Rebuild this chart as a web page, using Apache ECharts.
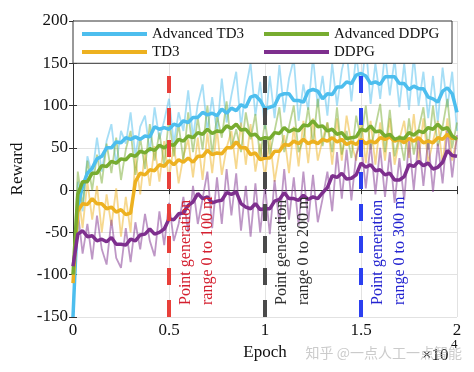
<!DOCTYPE html>
<html><head><meta charset="utf-8">
<script src="https://cdn.jsdelivr.net/npm/echarts@6/dist/echarts.min.js"></script>
<style>html,body{margin:0;padding:0;background:#fff}#c{width:474px;height:372px}</style>
</head><body><div id="c"></div>
<script>
const epochs = [0,0.025,0.05,0.075,0.1,0.125,0.15,0.175,0.2,0.225,
0.25,0.275,0.3,0.325,0.35,0.375,0.4,0.425,0.45,0.475,
0.5,0.525,0.55,0.575,0.6,0.625,0.65,0.675,0.7,0.725,
0.75,0.775,0.8,0.825,0.85,0.875,0.9,0.925,0.95,0.975,
1,1.025,1.05,1.075,1.1,1.125,1.15,1.175,1.2,1.225,
1.25,1.275,1.3,1.325,1.35,1.375,1.4,1.425,1.45,1.475,
1.5,1.525,1.55,1.575,1.6,1.625,1.65,1.675,1.7,1.725,
1.75,1.775,1.8,1.825,1.85,1.875,1.9,1.925,1.95,1.975,2];

const advTD3Smooth = [-150,-20,5,20,26,37,40,50,50,57,
56,62,60,63,60,64,63,75,72,74,
72,78,76,82,80,86,86,92,89,91,
88,96,91,97,94,101,98,110,112,106,
96,98,100,112,114,114,106,106,104,117,
119,117,108,114,113,122,122,128,126,136,
138,135,126,128,125,134,134,134,126,126,
119,123,120,120,110,108,104,117,121,114,92];
const advTD3Raw = [-150,10,-25,40,18,62,22,58,78,30,
70,55,92,40,75,88,45,98,60,82,
108,55,92,70,118,62,102,125,70,110,
68,132,80,112,140,75,120,150,88,128,
72,135,85,148,92,132,155,82,125,95,
158,98,135,88,150,100,142,165,105,160,
115,172,102,150,108,162,112,155,98,150,
95,158,100,140,85,135,80,145,98,140,70];

const advDDPGSmooth = [-100,-5,10,10,20,20,29,28,34,32,
37,36,42,40,46,44,49,47,53,50,
54,53,60,58,64,62,68,66,72,67,
70,69,76,73,78,71,72,65,66,60,
62,61,68,67,74,69,72,70,77,76,
82,75,76,70,72,66,68,61,62,63,
72,70,76,69,70,64,66,60,62,61,
68,65,70,68,74,72,78,72,74,64,60];
const advDDPGRaw = [-100,22,-18,35,0,42,8,55,20,62,
12,48,70,18,62,25,78,35,68,30,
85,40,78,35,92,45,85,48,100,42,
88,62,105,50,72,45,92,60,90,38,
82,42,70,98,45,75,100,45,60,98,
55,108,52,80,45,98,42,70,38,88,
60,100,48,75,102,45,95,40,65,35,
85,42,72,98,48,100,52,75,108,50,80];

const td3Smooth = [-110,-25,-16,-17,-10,-16,-16,-22,-20,-26,
-23,-29,-27,10,20,18,24,23,30,28,
35,30,36,33,38,33,40,40,47,42,
44,43,50,50,57,50,50,42,44,36,
38,38,46,46,54,53,58,55,60,55,
58,55,60,58,62,57,60,54,57,54,
60,55,58,56,62,60,63,58,60,56,
61,58,62,56,58,56,62,60,66,61,62];
const td3Raw = [-110,0,-45,10,-35,5,-50,-5,-42,2,
-55,-8,-50,38,-5,45,5,52,10,58,
12,55,8,40,60,15,62,12,68,20,
72,18,50,70,25,80,30,78,22,55,
15,62,10,45,65,20,75,28,82,32,
85,35,60,80,30,85,35,88,55,35,
85,32,82,30,80,35,85,30,60,82,
38,90,35,85,32,58,82,30,85,35,62];

const ddpgSmooth = [-90,-52,-48,-55,-54,-60,-58,-61,-56,-64,
-64,-65,-58,-60,-53,-52,-46,-52,-50,-46,
-34,-35,-28,-27,-18,-14,-4,-10,-8,-15,
-13,-12,-3,-5,-2,-16,-20,-22,-16,-23,
-22,-22,-13,-11,-3,-10,-10,-12,-6,-11,
-8,-10,-3,3,17,15,20,13,14,18,
32,27,30,23,24,18,20,12,12,16,
30,28,34,29,32,25,27,33,47,41,40];
const ddpgRaw = [-90,-25,-75,-40,-82,-30,-70,-88,-35,-80,
-92,-45,-85,-38,-70,-28,-60,-78,-25,-65,
-15,-60,-40,-8,-50,5,-40,-10,22,-45,
15,-40,25,-30,20,-48,5,-55,8,-50,
5,-52,12,-40,25,-35,15,-42,22,-38,
18,-38,-10,22,-25,45,-10,48,-12,42,
58,2,55,-5,50,-8,45,-15,38,-12,
58,0,62,5,60,-2,55,8,72,15,65];

const seriesNames = ['Advanced TD3','TD3','Advanced DDPG','DDPG'];
const seriesColors = ['#4DBEEE','#EDB120','#77AC30','#7E2F8E'];
const xTickLabels = ['0','0.5','1','1.5','2'];
const yTickLabels = ['-150','-100','-50','0','50','100','150','200'];
const rangeLines = [0.5, 1, 1.5];
const rangeColors = ['#e8403a','#4a4a4a','#2b3ff0'];
const rangeTextColors = ['#d42030','#2e2e2e','#2424d0'];
const rangeTexts = ['Point generation\nrange 0 to 100 m','Point generation\nrange 0 to 200 m','Point generation\nrange 0 to 300 m'];

const FONT = '"Liberation Serif","Times New Roman",serif';
const smooths = [advTD3Smooth, td3Smooth, advDDPGSmooth, ddpgSmooth];
const raws = [advTD3Raw, td3Raw, advDDPGRaw, ddpgRaw];
const pairs = arr => epochs.map((e,i)=>[e, arr[i]]);

const series = [];
raws.forEach((r,k)=>{
  series.push({type:'line', name:seriesNames[k]+' raw', data:pairs(r), showSymbol:false, silent:true,
    lineStyle:{color:seriesColors[k], width:1.8, opacity:0.5}, itemStyle:{color:seriesColors[k]}, z:2});
});
smooths.forEach((s,k)=>{
  series.push({type:'line', name:seriesNames[k], data:pairs(s), showSymbol:false,
    lineStyle:{color:seriesColors[k], width:3.5}, itemStyle:{color:seriesColors[k]}, z:3});
});
series.push({type:'line', name:'marks', data:[], silent:true, z:5,
  markLine:{silent:true, symbol:['none','none'], animation:false, label:{show:false},
    lineStyle:{type:[17,15], width:4, opacity:1},
    data: rangeLines.map((v,i)=>[{coord:[v,-150], lineStyle:{color:rangeColors[i], type:[17,15], width:4}},{coord:[v,150]}])}
});

const axisCommon = {min:0, max:2, interval:0.5};
const option = {
  animation:false,
  grid:{left:73, right:17, top:21, bottom:55},
  legend:[
    {orient:'vertical', left:82, top:26, padding:0, itemGap:2, itemWidth:65, itemHeight:4, icon:'rect', z:110,
      data:['Advanced TD3','TD3'], selectedMode:false, textStyle:{fontFamily:FONT, fontSize:15, color:'#111', lineHeight:16}},
    {orient:'vertical', left:264, top:26, padding:0, itemGap:2, itemWidth:65, itemHeight:4, icon:'rect', z:110,
      data:['Advanced DDPG','DDPG'], selectedMode:false, textStyle:{fontFamily:FONT, fontSize:15, color:'#111', lineHeight:16}}
  ],
  xAxis:[
    Object.assign({type:'value', position:'bottom', name:'Epoch', nameLocation:'middle', nameGap:25,
      nameTextStyle:{fontFamily:FONT, fontSize:17, color:'#111'},
      axisLine:{show:true, lineStyle:{color:'#333', width:1}},
      axisTick:{show:true, inside:true, length:4, lineStyle:{color:'#333'}},
      axisLabel:{margin:5, fontFamily:FONT, fontSize:17, color:'#111', formatter:(v)=>xTickLabels[Math.round(v/0.5)]},
      splitLine:{show:true, lineStyle:{color:'#e2e2e2', width:1}}}, axisCommon),
    Object.assign({type:'value', position:'top',
      axisLine:{show:true, lineStyle:{color:'#333', width:1}},
      axisTick:{show:true, inside:true, length:4, lineStyle:{color:'#333'}},
      axisLabel:{show:false}, splitLine:{show:false}}, axisCommon)
  ],
  yAxis:[
    {type:'value', min:-150, max:200, interval:50, name:'Reward', nameLocation:'middle', nameGap:38,
      nameTextStyle:{fontFamily:FONT, fontSize:17, color:'#111'},
      axisLine:{show:true, lineStyle:{color:'#333', width:1}},
      axisTick:{show:true, inside:true, length:4, lineStyle:{color:'#333'}},
      axisLabel:{margin:5, fontFamily:FONT, fontSize:17, color:'#111', formatter:(v)=>yTickLabels[Math.round((v+150)/50)]},
      splitLine:{show:true, lineStyle:{color:'#e2e2e2', width:1}}},
    {type:'value', min:-150, max:200, interval:50, position:'right',
      axisLine:{show:true, lineStyle:{color:'#333', width:1}},
      axisTick:{show:true, inside:true, length:4, lineStyle:{color:'#333'}},
      axisLabel:{show:false}, splitLine:{show:false}}
  ],
  series: series
};

const chart = echarts.init(document.getElementById('c'), null, {renderer:'canvas'});
chart.setOption(option);

const tl = chart.convertToPixel({gridIndex:0}, [0, 200]);
const br = chart.convertToPixel({gridIndex:0}, [2, -150]);
const legBottom = chart.convertToPixel({gridIndex:0}, [0, 150]);
const graphics = [];
graphics.push({type:'rect', z:100, shape:{x:tl[0], y:tl[1], width:(br[0]-tl[0])-5, height:legBottom[1]-tl[1]},
  style:{fill:'#fff', stroke:'#333', lineWidth:1}});
rangeLines.forEach((v,i)=>{
  const p = chart.convertToPixel({gridIndex:0}, [v, -150]);
  graphics.push({type:'text', z:120, x:p[0]+6, y:p[1]-12, rotation:Math.PI/2,
    style:{text:rangeTexts[i], fill:rangeTextColors[i], font:'16px '+FONT, align:'left', verticalAlign:'top', lineHeight:22}});
});
graphics.push({type:'text', z:120, x:br[0]-35, y:br[1]+39,
  style:{text:'×10', fill:'#111', font:'17px '+FONT, align:'left', verticalAlign:'middle'}});
graphics.push({type:'text', z:120, x:br[0]-6, y:br[1]+28,
  style:{text:'4', fill:'#111', font:'13px '+FONT, align:'left', verticalAlign:'middle'}});
graphics.push({type:'text', z:130, x:br[0]+5, y:br[1]+36,
  style:{text:'知乎 @一点人工一点智能', fill:'rgba(185,185,185,0.75)', font:'14px "Noto Sans CJK SC"', align:'right', verticalAlign:'middle'}});
chart.setOption({graphic:{elements:graphics}});
</script>
</body></html>
